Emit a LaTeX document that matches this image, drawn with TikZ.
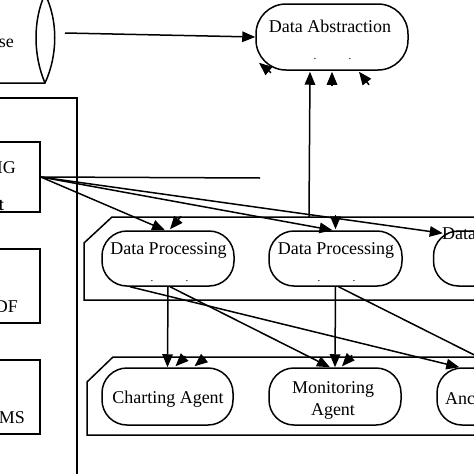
\documentclass[tikz,border=0pt]{standalone}
\usepackage{fontspec}
\setmainfont{Liberation Serif}
\usetikzlibrary{arrows.meta,calc}
\begin{document}
\begin{tikzpicture}[x=1pt,y=-1pt,
  ln/.style={line width=1.5pt},
  tip/.style={line width=1.5pt,-{Triangle[length=13pt,width=10.5pt]}},
  pill/.style={draw,line width=1.5pt,rounded corners=25pt,inner sep=0pt},
  lbl/.style={font=\fontsize{18}{21}\selectfont,inner sep=0pt},
  dot/.style={font=\fontsize{11}{12}\selectfont,inner sep=0pt},
  sq/.style={draw,line width=1.5pt,inner sep=0pt}]
\useasboundingbox (0,0) rectangle (474,474);
\clip (0,0) rectangle (474,474);

% lens shape
\draw[ln] (45,83) .. controls (33,55) and (33,20) .. (45,-6)
          .. controls (58,20) and (58,55) .. (45,83) -- (-10,83);
\node[lbl,anchor=base east] (setxt) at (14,47) {se};
\coordinate (lensout) at (65,33);

% left big box and sub boxes
\node[sq,minimum width=177pt,minimum height=462pt] (left) at (-11.5,329) {};
\node[sq,minimum width=60pt,minimum height=70pt] (IG) at (10,177) {};
\node[sq,minimum width=60pt,minimum height=74pt] (DF) at (10,286) {};
\node[sq,minimum width=60pt,minimum height=74pt] (MS) at (10,397) {};
\node[lbl,anchor=base east] (igtxt) at (16,173) {IG};
\node[lbl,anchor=base east,font=\fontsize{18}{21}\selectfont\bfseries] (ttxt) at (4,210) {t};
\node[lbl,anchor=base east] (dftxt) at (18,312) {DF};
\node[lbl,anchor=base east] (mstxt) at (25,423) {MS};
\coordinate (igend) at (260,178);

% Data Abstraction
\node[pill,rounded corners=30pt,minimum width=152pt,minimum height=66pt] (DA) at (332,37) {};
\node[lbl,anchor=base] (datxt) at (330,32) {Data Abstraction};
\node[dot,anchor=base] (dad1) at (315,59.5) {.};
\node[dot,anchor=base] (dad2) at (350,59.5) {.};

% middle container
\draw[ln] (112,217) -- (540,217) -- (540,300) -- (84,300) -- (84,243) -- cycle;
\coordinate (mctop) at (309,217);
\node[pill,minimum width=132pt,minimum height=55pt] (DP1) at (168,258.5) {};
\node[pill,minimum width=133pt,minimum height=55pt] (DP2) at (335.5,258.5) {};
\node[pill,minimum width=132pt,minimum height=55pt] (DP3) at (499.5,258.5) {};
\node[lbl,anchor=base] (dp1txt) at (168.5,254) {Data Processing};
\node[lbl,anchor=base] (dp2txt) at (336,254) {Data Processing};
\node[lbl,anchor=base west] (dp3txt) at (442,239) {Data};
\node[dot,anchor=base] (p1d1) at (152,281.5) {.};
\node[dot,anchor=base] (p1d2) at (187,281.5) {.};
\node[dot,anchor=base] (p2d1) at (319,281.5) {.};
\node[dot,anchor=base] (p2d2) at (354,281.5) {.};

% bottom container
\draw[ln] (113,357) -- (540,357) -- (540,435) -- (87,435) -- (87,382) -- cycle;
\node[pill,minimum width=131pt,minimum height=57pt] (CA) at (167.5,396.5) {};
\node[pill,minimum width=132pt,minimum height=57pt] (MA) at (335,396.5) {};
\node[pill,minimum width=132pt,minimum height=57pt] (AN) at (503,396.5) {};
\node[lbl,anchor=base] (catxt) at (168,403) {Charting Agent};
\node[lbl,anchor=base] (matxt1) at (333,393) {Monitoring};
\node[lbl,anchor=base] (matxt2) at (333,415) {Agent};
\node[lbl,anchor=base west] (antxt) at (445,404) {Anc};
\coordinate (offr) at (540,388);

% connectors
\draw[tip] (lensout) -- (DA.west);
\draw[ln] (IG.east) -- (igend);
\draw[tip] (IG.east) -- ([xshift=-3pt]DP1.north);
\draw[tip] (IG.east) -- ([xshift=-3pt]DP2.north);
\draw[tip] (IG.east) -- ([xshift=10pt,yshift=-3pt]DP3.north west);
\draw[tip] (mctop) -- ([xshift=-22pt,yshift=-1pt]DA.south);
\draw[tip] (DP1.south) -- (CA.north);
\draw[tip] ([xshift=2pt]DP1.south) -- ([xshift=-5pt]MA.north);
\draw[tip] ([xshift=-38pt]DP1.south) -- ([xshift=23pt]AN.north west);
\draw[tip] (DP2.south) -- (MA.north);
\draw[ln] ([xshift=3pt]DP2.south) -- (offr);

% arrowheads whose lines are cut
\draw[tip] ([xshift=-61pt,yshift=-2pt]DA.south) -- ([xshift=-73pt,yshift=8pt]DA.south);
\draw[tip] ([yshift=-15pt]DA.south) -- ([yshift=-1pt]DA.south);
\draw[tip] ([xshift=37pt,yshift=-14pt]DA.south) -- ([xshift=27pt,yshift=-1pt]DA.south);
\draw[tip] ([xshift=13pt,yshift=14pt]DP1.north) -- ([xshift=2pt,yshift=1pt]DP1.north);
\draw[tip] ([yshift=15pt]DP2.north) -- ([yshift=1pt]DP2.north);
\draw[tip] ([xshift=18pt,yshift=11pt]CA.north) -- ([xshift=8pt,yshift=1pt]CA.north);
\draw[tip] ([xshift=38pt,yshift=10pt]CA.north) -- ([xshift=27pt,yshift=1pt]CA.north);
\draw[tip] ([xshift=17pt,yshift=12pt]MA.north) -- ([xshift=7pt,yshift=1pt]MA.north);
\end{tikzpicture}
\end{document}
